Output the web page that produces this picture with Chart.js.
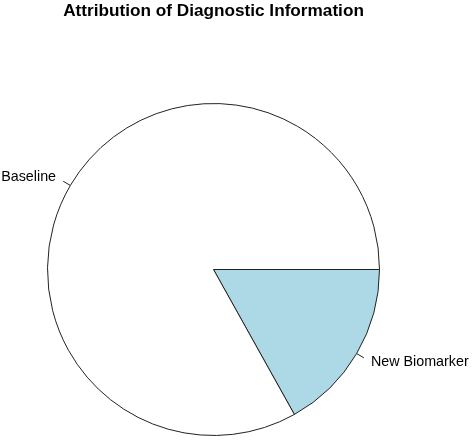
<!DOCTYPE html>
<html>
<head>
<meta charset="utf-8">
<script src="https://cdn.jsdelivr.net/npm/chart.js@4/dist/chart.umd.min.js"></script>
<style>
html,body{margin:0;padding:0;background:#fff;}
#wrap{width:474px;height:441px;}
</style>
</head>
<body>
<div id="wrap"><canvas id="c" width="474" height="441"></canvas></div>
<script>
const categories = ["New Biomarker", "Baseline"];
const shares = [16.9, 83.1];
const sliceColors = ["#ADD8E6", "#FFFFFF"];
const titleText = "Attribution of Diagnostic Information";

const pieLabels = {
  id: 'pieLabels',
  afterDatasetsDraw(chart) {
    const ctx = chart.ctx;
    const meta = chart.getDatasetMeta(0);
    ctx.save();
    ctx.font = '14.3px "Liberation Sans", Arial, sans-serif';
    ctx.fillStyle = '#000';
    ctx.strokeStyle = '#222';
    ctx.lineWidth = 1;
    ctx.textBaseline = 'middle';
    meta.data.forEach((arc, i) => {
      const p = arc.getProps(['x','y','startAngle','endAngle','outerRadius'], true);
      const mid = (p.startAngle + p.endAngle) / 2;
      const c = Math.cos(mid), s = Math.sin(mid);
      const r = p.outerRadius;
      ctx.beginPath();
      ctx.moveTo(p.x + c * r, p.y + s * r);
      ctx.lineTo(p.x + c * r * 1.05, p.y + s * r * 1.05);
      ctx.stroke();
      ctx.textAlign = c > 0 ? 'left' : 'right';
      ctx.fillText(chart.data.labels[i], p.x + c * r * 1.1, p.y + s * r * 1.1);
    });
    ctx.restore();
  }
};

new Chart(document.getElementById('c'), {
  type: 'pie',
  data: {
    labels: categories,
    datasets: [{
      data: shares,
      backgroundColor: sliceColors,
      borderColor: '#222',
      borderWidth: 1
    }]
  },
  options: {
    responsive: false,
    animation: false,
    rotation: 90,
    radius: 166,
    layout: { padding: { left: 0, right: 47, top: 0, bottom: 2 } },
    plugins: {
      legend: { display: false },
      tooltip: { enabled: false },
      title: {
        display: true,
        text: titleText,
        color: '#000',
        font: { family: '"Liberation Sans", Arial, sans-serif', size: 17.2, weight: 'bold', lineHeight: 1.2 },
        padding: { top: 0.5, bottom: 78.86 }
      }
    }
  },
  plugins: [pieLabels]
});
</script>
</body>
</html>
